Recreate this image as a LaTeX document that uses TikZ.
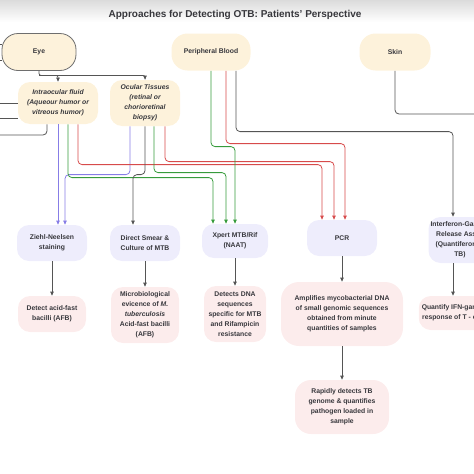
\documentclass[tikz,border=0pt]{standalone}
\usepackage{fontspec}
\setmainfont{Liberation Sans}
\usetikzlibrary{arrows.meta}

\definecolor{cream}{RGB}{253,242,219}
\definecolor{lav}{RGB}{238,237,252}
\definecolor{blush}{RGB}{252,236,236}
\definecolor{inkgrey}{RGB}{55,55,60}
\definecolor{framegrey}{RGB}{110,110,110}
\definecolor{darkline}{RGB}{85,85,85}
\definecolor{vio}{RGB}{135,125,230}
\definecolor{leaf}{RGB}{55,155,60}
\definecolor{rust}{RGB}{215,75,75}

\begin{document}
\begin{tikzpicture}[
    x=1pt, y=-1pt,
    line width=0.8pt,
    color=darkline,
    >={Triangle[length=4pt, width=3.6pt]},
    every node/.style={font=\fontsize{6.8}{10}\selectfont\bfseries, align=center, text=inkgrey},
    source/.style={rounded corners=16pt, fill=cream, minimum width=74pt, minimum height=37pt},
    sample/.style={rounded corners=12pt, fill=cream, inner sep=3pt, font=\fontsize{6.8}{10}\selectfont\bfseries\itshape},
    method/.style={rounded corners=12pt, fill=lav, minimum width=70pt, minimum height=36pt, inner sep=2pt},
    finding/.style={rounded corners=12pt, fill=blush, minimum width=68pt, minimum height=36pt, inner sep=3pt},
    arrow/.style={->, rounded corners=4pt},
    wire/.style={rounded corners=4pt}
]
\useasboundingbox (0,0) rectangle (474,474);
\shade[top color=black!14, bottom color=white] (0,0) rectangle (474,22);
\node[font=\fontsize{10}{12}\selectfont\bfseries] (title) at (235,15) {Approaches for Detecting OTB: Patients' Perspective};

\node[source, draw=framegrey] (eye) at (39,52) {Eye};
\node[source, minimum width=79pt] (blood) at (211,52) {Peripheral Blood};
\node[source, minimum width=71pt] (skin) at (395,52) {Skin};
\node[sample, minimum width=80pt, minimum height=42pt] (fluid) at (58,103) {Intraocular fluid\\(Aqueour humor or\\vitreous humor)};
\node[sample, minimum width=70pt, minimum height=46pt] (tissue) at (145,103) {Ocular Tissues\\(retinal or\\chorioretinal\\biopsy)};

\node[method] (ziehl) at (52,243) {Ziehl-Neelsen\\staining};
\node[method] (smear) at (145,243) {Direct Smear \&\\Culture of MTB};
\node[method, minimum width=66pt, minimum height=34pt] (xpert) at (235,241) {Xpert MTB/Rif\\(NAAT)};
\node[method] (pcr) at (342,238) {PCR};
\node[method, minimum width=58pt, minimum height=46pt] (igra) at (460,240) {Interferon-Gamma\\Release Assay\\(Quantiferon/T-\\TB)};

\node[finding] (afb) at (52,314) {Detect acid-fast\\bacilli (AFB)};
\node[finding, minimum height=56pt] (micro) at (145,315) {Microbiological\\evicence of \textit{M.}\\\textit{tuberculosis}\\Acid-fast bacilli\\(AFB)};
\node[finding, minimum width=62pt, minimum height=56pt] (dna) at (235,314) {Detects DNA\\sequences\\specific for MTB\\and Rifampicin\\resistance};
\node[finding, minimum width=122pt, minimum height=64pt, rounded corners=18pt] (amplify) at (342,314) {Amplifies mycobacterial DNA\\of small genomic sequences\\obtained from minute\\quantities of samples};
\node[finding, minimum height=34pt] (quant) at (455,313) {Quantify IFN-gamma\\response of T - cells};
\node[finding, minimum width=94pt, minimum height=54pt, rounded corners=16pt] (rapid) at (342,407) {Rapidly detects TB\\genome \& quantifies\\pathogen loaded in\\sample};

\coordinate (offeyeA) at (-5,44);
\coordinate (offeyeB) at (-5,60);
\coordinate (offfluidA) at (-5,103);
\coordinate (offfluidB) at (-5,118);
\coordinate (offfluidC) at (-5,135);
\coordinate (skinexit) at (480,114);

\draw (offeyeA) -- (offeyeA -| eye.west);
\draw (offeyeB) -- (offeyeB -| eye.west);
\draw (offfluidA) -- (fluid.west);
\draw (offfluidB) -- (offfluidB -| fluid.west);
\draw[wire] (offfluidC) -| ([xshift=-11pt]fluid.south);

\draw[arrow, rounded corners=2pt] (eye.south) -- ++(0,4.5) -| (tissue.north);
\draw[arrow, rounded corners=2pt] (eye.south) ++(0,4.5) -| (fluid.north);

\draw[arrow, vio] (fluid.south) -- (fluid.south |- ziehl.north);
\draw[arrow, vio] ([xshift=-15pt]tissue.south) |- ([xshift=13pt, yshift=50pt]ziehl.north) -- ([xshift=13pt]ziehl.north);
\draw[arrow, leaf] ([xshift=10pt]fluid.south) |- ([xshift=-22pt, yshift=46pt]xpert.north) -- ([xshift=-22pt]xpert.north);
\draw[arrow, rust] ([xshift=20pt]fluid.south) |- ([xshift=-20pt, yshift=55pt]pcr.north) -- ([xshift=-20pt]pcr.north);
\draw[arrow] (tissue.south) |- ([xshift=-12pt, yshift=50pt]smear.north) -- ([xshift=-12pt]smear.north);
\draw[arrow, leaf] ([xshift=9pt]tissue.south) |- ([xshift=-9pt, yshift=51pt]xpert.north) -- ([xshift=-9pt]xpert.north);
\draw[arrow, rust] ([xshift=20pt]tissue.south) |- ([xshift=-8pt, yshift=58pt]pcr.north) -- ([xshift=-8pt]pcr.north);
\draw[arrow, leaf] (blood.south) |- ([yshift=77pt]xpert.north) -- (xpert.north);
\draw[arrow, rust] ([xshift=15pt]blood.south) |- ([xshift=3pt, yshift=76pt]pcr.north) -- ([xshift=3pt]pcr.north);
\draw[arrow] ([xshift=25pt]blood.south) |- ([xshift=-7pt, yshift=85pt]igra.north) -- ([xshift=-7pt]igra.north);
\draw[wire] (skin.south) |- (skinexit);

\draw[arrow] (ziehl) -- (afb);
\draw[arrow] (smear) -- (micro);
\draw[arrow] (xpert) -- (dna);
\draw[arrow] (pcr) -- (amplify);
\draw[arrow] ([xshift=-7pt]igra.south) -- ([xshift=-7pt]igra.south |- quant.north);
\draw[arrow] (amplify) -- (rapid);
\end{tikzpicture}
\end{document}
